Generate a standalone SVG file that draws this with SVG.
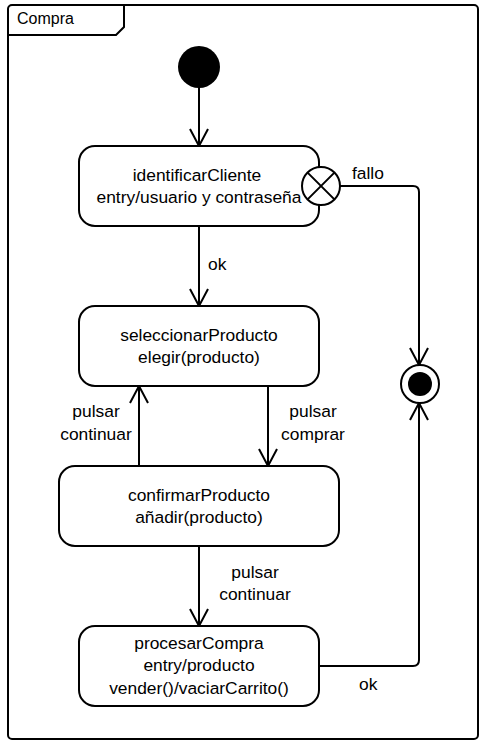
<svg xmlns="http://www.w3.org/2000/svg" width="487" height="747" viewBox="0 0 487 747">
<defs>
<marker id="open" viewBox="0 0 20 20" refX="19" refY="10" markerWidth="20" markerHeight="20" markerUnits="userSpaceOnUse" orient="auto">
<path d="M2,1 L19,10 L2,19" fill="none" stroke="#000" stroke-width="2"/>
</marker>
<style>
.st{fill:#fff;stroke:#000;stroke-width:2}
.t{font-family:"Liberation Sans",Arial,sans-serif;font-size:17.4px;fill:#000;text-anchor:middle}
.tl{font-family:"Liberation Sans",Arial,sans-serif;font-size:17.4px;fill:#000}
.c{fill:none;stroke:#000;stroke-width:2}
</style>
</defs>
<rect width="487" height="747" fill="#fff"/>
<g id="frame">
<rect x="8" y="5" width="470" height="734" rx="4" fill="none" stroke="#000" stroke-width="2"/>
<path d="M8,35 L116,35 L124,27 L124,5" fill="none" stroke="#000" stroke-width="2"/>
<text class="tl" x="17" y="24" style="font-size:16px">Compra</text>
</g>
<g id="connectors">
<path class="c" d="M199,88 L199,146" marker-end="url(#open)"/>
<path class="c" d="M340,186 L413,186 Q419,186 419,192 L419,365" marker-end="url(#open)"/>
<path class="c" d="M199,226 L199,306" marker-end="url(#open)"/>
<path class="c" d="M139,466 L139,386" marker-end="url(#open)"/>
<path class="c" d="M268,386 L268,466" marker-end="url(#open)"/>
<path class="c" d="M199,546 L199,626" marker-end="url(#open)"/>
<path class="c" d="M319,666 L413,666 Q419,666 419,660 L419,403" marker-end="url(#open)"/>
<text class="tl" x="352" y="179">fallo</text>
<text class="tl" x="208" y="270">ok</text>
<text class="t" x="96" y="417">pulsar</text>
<text class="t" x="96" y="440">continuar</text>
<text class="t" x="313" y="417">pulsar</text>
<text class="t" x="313" y="440">comprar</text>
<text class="t" x="255" y="578">pulsar</text>
<text class="t" x="255" y="600">continuar</text>
<text class="tl" x="359" y="690">ok</text>
</g>
<g id="initial">
<circle cx="199" cy="67" r="21" fill="#000"/>
</g>
<g id="identificarCliente">
<rect class="st" x="79" y="146" width="240" height="80" rx="16"/>
<text class="t" x="197" y="181">identificarCliente</text>
<text class="t" x="199" y="203">entry/usuario y contraseña</text>
</g>
<g id="exitPoint">
<circle cx="321" cy="186" r="19" class="st"/>
<path d="M307.6,172.6 L334.4,199.4 M334.4,172.6 L307.6,199.4" stroke="#000" stroke-width="2"/>
</g>
<g id="seleccionarProducto">
<rect class="st" x="79" y="306" width="240" height="80" rx="16"/>
<text class="t" x="199" y="341">seleccionarProducto</text>
<text class="t" x="199" y="363">elegir(producto)</text>
</g>
<g id="confirmarProducto">
<rect class="st" x="59" y="466" width="280" height="80" rx="16"/>
<text class="t" x="199" y="501">confirmarProducto</text>
<text class="t" x="199" y="523">añadir(producto)</text>
</g>
<g id="procesarCompra">
<rect class="st" x="79" y="626" width="240" height="80" rx="16"/>
<text class="t" x="199" y="649">procesarCompra</text>
<text class="t" x="199" y="671">entry/producto</text>
<text class="t" x="199" y="694">vender()/vaciarCarrito()</text>
</g>
<g id="final">
<circle cx="420" cy="384" r="19" class="st"/>
<circle cx="420" cy="384" r="12" fill="#000"/>
</g>
</svg>
